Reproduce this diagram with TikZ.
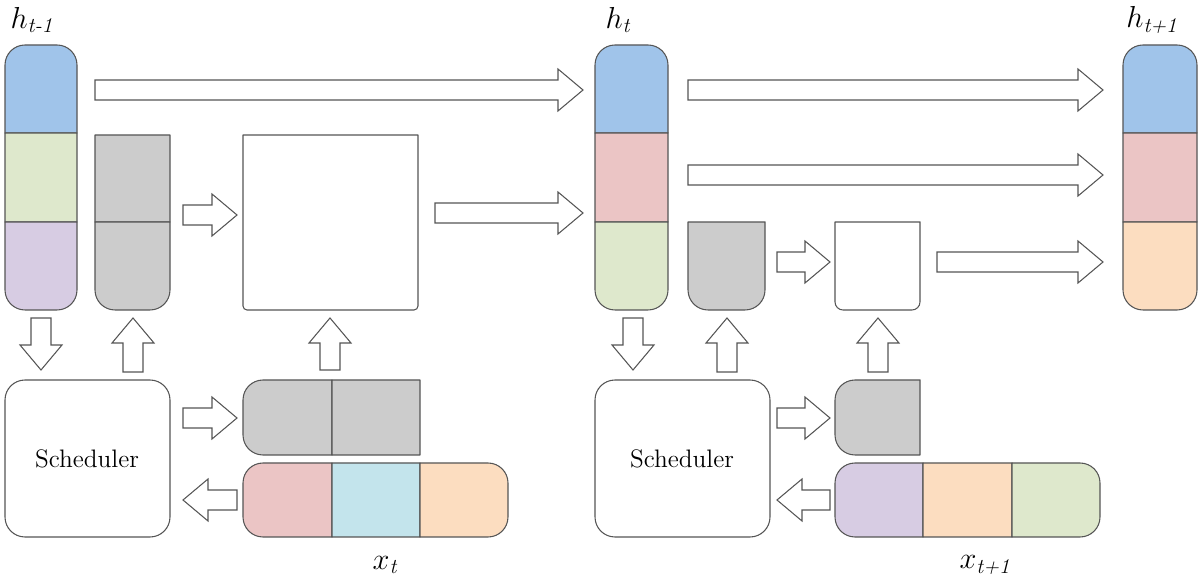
\documentclass[tikz,border=0pt]{standalone}
\usepackage{amsmath}
\definecolor{cblue}{HTML}{A0C4EA}
\definecolor{cgreen}{HTML}{DEE8CC}
\definecolor{cpurple}{HTML}{D7CCE3}
\definecolor{cred}{HTML}{EBC5C5}
\definecolor{ccyan}{HTML}{C3E4EC}
\definecolor{corange}{HTML}{FCDDC0}
\definecolor{cgray}{HTML}{CCCCCC}
\definecolor{edge}{HTML}{555555}
% box: fill, x1, y1, x2, y2, radii ll, lr, ur, ul
\newcommand{\rbox}[9]{%
\path[draw=edge,fill=#1,line width=0.6pt] (#2+#6,#3) -- (#4-#7,#3)
  arc[start angle=-90,end angle=0,radius=#7] -- (#4,#5-#8)
  arc[start angle=0,end angle=90,radius=#8] -- (#2+#9,#5)
  arc[start angle=90,end angle=180,radius=#9] -- (#2,#3+#6)
  arc[start angle=180,end angle=270,radius=#6] -- cycle;}
\tikzset{
  blk/.pic={\draw[draw=edge,fill=white,line width=0.6pt]
    (0,-10) -- (#1-25,-10) -- (#1-25,-21) -- (#1,0) -- (#1-25,21) -- (#1-25,10) -- (0,10) -- cycle;},
  lab/.style={font=\LARGE}
}
\begin{document}
\begin{tikzpicture}[x=0.02cm,y=0.02cm]
\useasboundingbox (0,0) rectangle (1200,581);

%h_{t-1}
\rbox{cblue}{5}{448}{77}{536}{0.01}{0.01}{20}{20}
\rbox{cgreen}{5}{359}{77}{448}{0.01}{0.01}{0.01}{0.01}
\rbox{cpurple}{5}{271}{77}{359}{20}{20}{0.01}{0.01}
%gray column
\rbox{cgray}{95}{359}{170}{446}{0.01}{0.01}{0.01}{0.01}
\rbox{cgray}{95}{271}{170}{359}{20}{20}{0.01}{0.01}
%big square
\rbox{white}{243}{271}{418}{446}{4}{4}{0.01}{0.01}
%h_t
\rbox{cblue}{595}{448}{668}{536}{0.01}{0.01}{20}{20}
\rbox{cred}{595}{359}{668}{448}{0.01}{0.01}{0.01}{0.01}
\rbox{cgreen}{595}{271}{668}{359}{20}{20}{0.01}{0.01}
%h_{t+1}
\rbox{cblue}{1123}{448}{1197}{536}{0.01}{0.01}{20}{20}
\rbox{cred}{1123}{359}{1197}{448}{0.01}{0.01}{0.01}{0.01}
\rbox{corange}{1123}{271}{1197}{359}{20}{20}{0.01}{0.01}
%small gray and small square
\rbox{cgray}{688}{271}{765}{359}{20}{20}{0.01}{0.01}
\rbox{white}{835}{271}{920}{359}{8}{8}{0.01}{0.01}

%schedulers
\rbox{white}{5}{44}{170}{201}{20}{20}{20}{20}
\node[font=\Large] (sched1) at (87,122) {Scheduler};
\rbox{white}{595}{44}{770}{201}{20}{20}{20}{20}
\node[font=\Large] (sched2) at (682,122) {Scheduler};

%gray bars
\rbox{cgray}{243}{126}{332}{201}{20}{0.01}{0.01}{20}
\rbox{cgray}{332}{126}{420}{201}{0.01}{0.01}{0.01}{0.01}
\rbox{cgray}{835}{126}{920}{201}{20}{0.01}{0.01}{20}
%inputs
\rbox{cred}{243}{44}{332}{118}{20}{0.01}{0.01}{20}
\rbox{ccyan}{332}{44}{420}{118}{0.01}{0.01}{0.01}{0.01}
\rbox{corange}{420}{44}{508}{118}{0.01}{20}{20}{0.01}
\rbox{cpurple}{835}{44}{923}{118}{20}{0.01}{0.01}{20}
\rbox{corange}{923}{44}{1012}{118}{0.01}{0.01}{0.01}{0.01}
\rbox{cgreen}{1012}{44}{1100}{118}{0.01}{20}{20}{0.01}

%arrows
\pic at (95,491) {blk=488};
\pic at (688,491) {blk=415};
\pic at (688,406) {blk=415};
\pic at (937,319) {blk=166};
\pic at (435,368) {blk=148};
\pic at (183,366) {blk=54};
\pic at (777,319) {blk=53};
\pic at (183,163) {blk=54};
\pic at (777,163) {blk=53};
\pic[rotate=180] at (237,81) {blk=54};
\pic[rotate=180] at (830,81) {blk=53};
\pic[rotate=-90] at (41,263) {blk=52};
\pic[rotate=-90] at (633,263) {blk=52};
\pic[rotate=90] at (133,209) {blk=54};
\pic[rotate=90] at (330,211) {blk=52};
\pic[rotate=90] at (727,209) {blk=54};
\pic[rotate=90] at (878,209) {blk=54};

%labels
\node[lab] (hprev) at (32,561) {$h_{\textit{t-1}}$};
\node[lab] (hcur) at (618,561) {$h_{\textit{t}}$};
\node[lab] (hnext) at (1152,561) {$h_{\textit{t+1}}$};
\node[lab] (xcur) at (385,16) {$x_{\textit{t}}$};
\node[lab] (xnext) at (985,16) {$x_{\textit{t+1}}$};
\end{tikzpicture}
\end{document}
